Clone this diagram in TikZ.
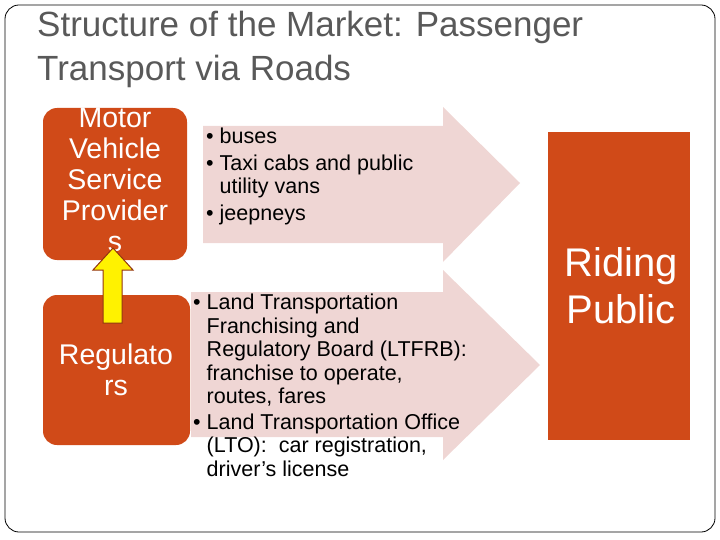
\documentclass[tikz,border=0pt]{standalone}
\usepackage{fontspec}
\setmainfont{Liberation Sans}
\definecolor{orng}{HTML}{D04A18}
\definecolor{pnk}{HTML}{EFD6D4}
\definecolor{ttl}{HTML}{595959}
\begin{document}
\begin{tikzpicture}[x=1pt,y=-1pt,
  obox/.style={fill=orng,rounded corners=14pt},
  btxt/.style={text=white,align=center,font=\fontsize{28.5}{31}\selectfont},
  list/.style={anchor=north west,inner sep=0pt,font=\fontsize{21.5}{23.5}\selectfont}]
\useasboundingbox (0,0) rectangle (720,540);
\draw[rounded corners=14pt,line width=0.8pt] (5,5) rectangle (715,532);
\node[anchor=north west,inner sep=0pt,align=left,text=ttl,font=\fontsize{35}{44}\selectfont] (title) at (37,11) {Structure of the Market: Passenger\\Transport via Roads};
\fill[pnk] (203,126) -- (443,126) -- (443,107) -- (520,183) -- (443,262) -- (443,243) -- (203,243) -- cycle;
\fill[pnk] (191,292) -- (443,292) -- (443,270) -- (540,365) -- (443,460) -- (443,437) -- (191,437) -- cycle;
\fill[orng] (548,132) rectangle (690,440);
\node[obox,minimum width=144pt,minimum height=152pt] (mv) at (115,184) {};
\node[obox,minimum width=147pt,minimum height=150pt] (rg) at (116.5,370) {};
\node[btxt,anchor=north,inner sep=0pt] (mvt) at (115,108) {Motor\\Vehicle\\Service\\Provider\\s};
\node[btxt,inner sep=0pt] (rgt) at (116,370) {Regulato\\rs};
\node[text=white,align=center,inner sep=0pt,font=\fontsize{40}{47}\selectfont] (rp) at (621,286) {Riding\\Public};
\draw[fill=yellow,draw=orng!70!black,line width=1pt] (103,323) -- (103,270) -- (93,270) -- (113,248) -- (133,270) -- (122,270) -- (122,323) -- cycle;
\node[list] (l1) at (206,127) {\begin{tabular}{@{}l@{\hspace{6pt}}l@{}}
\textbullet & buses\\[3pt]
\textbullet & Taxi cabs and public\\
 & utility vans\\[3pt]
\textbullet & jeepneys\end{tabular}};
\node[list] (l2) at (193,293) {\begin{tabular}{@{}l@{\hspace{6pt}}l@{}}
\textbullet & Land Transportation\\
 & Franchising and\\
 & Regulatory Board (LTFRB):\\
 & franchise to operate,\\
 & routes, fares\\[2pt]
\textbullet & Land Transportation Office\\
 & (LTO):\ \ car registration,\\
 & driver’s license\end{tabular}};
\end{tikzpicture}
\end{document}
